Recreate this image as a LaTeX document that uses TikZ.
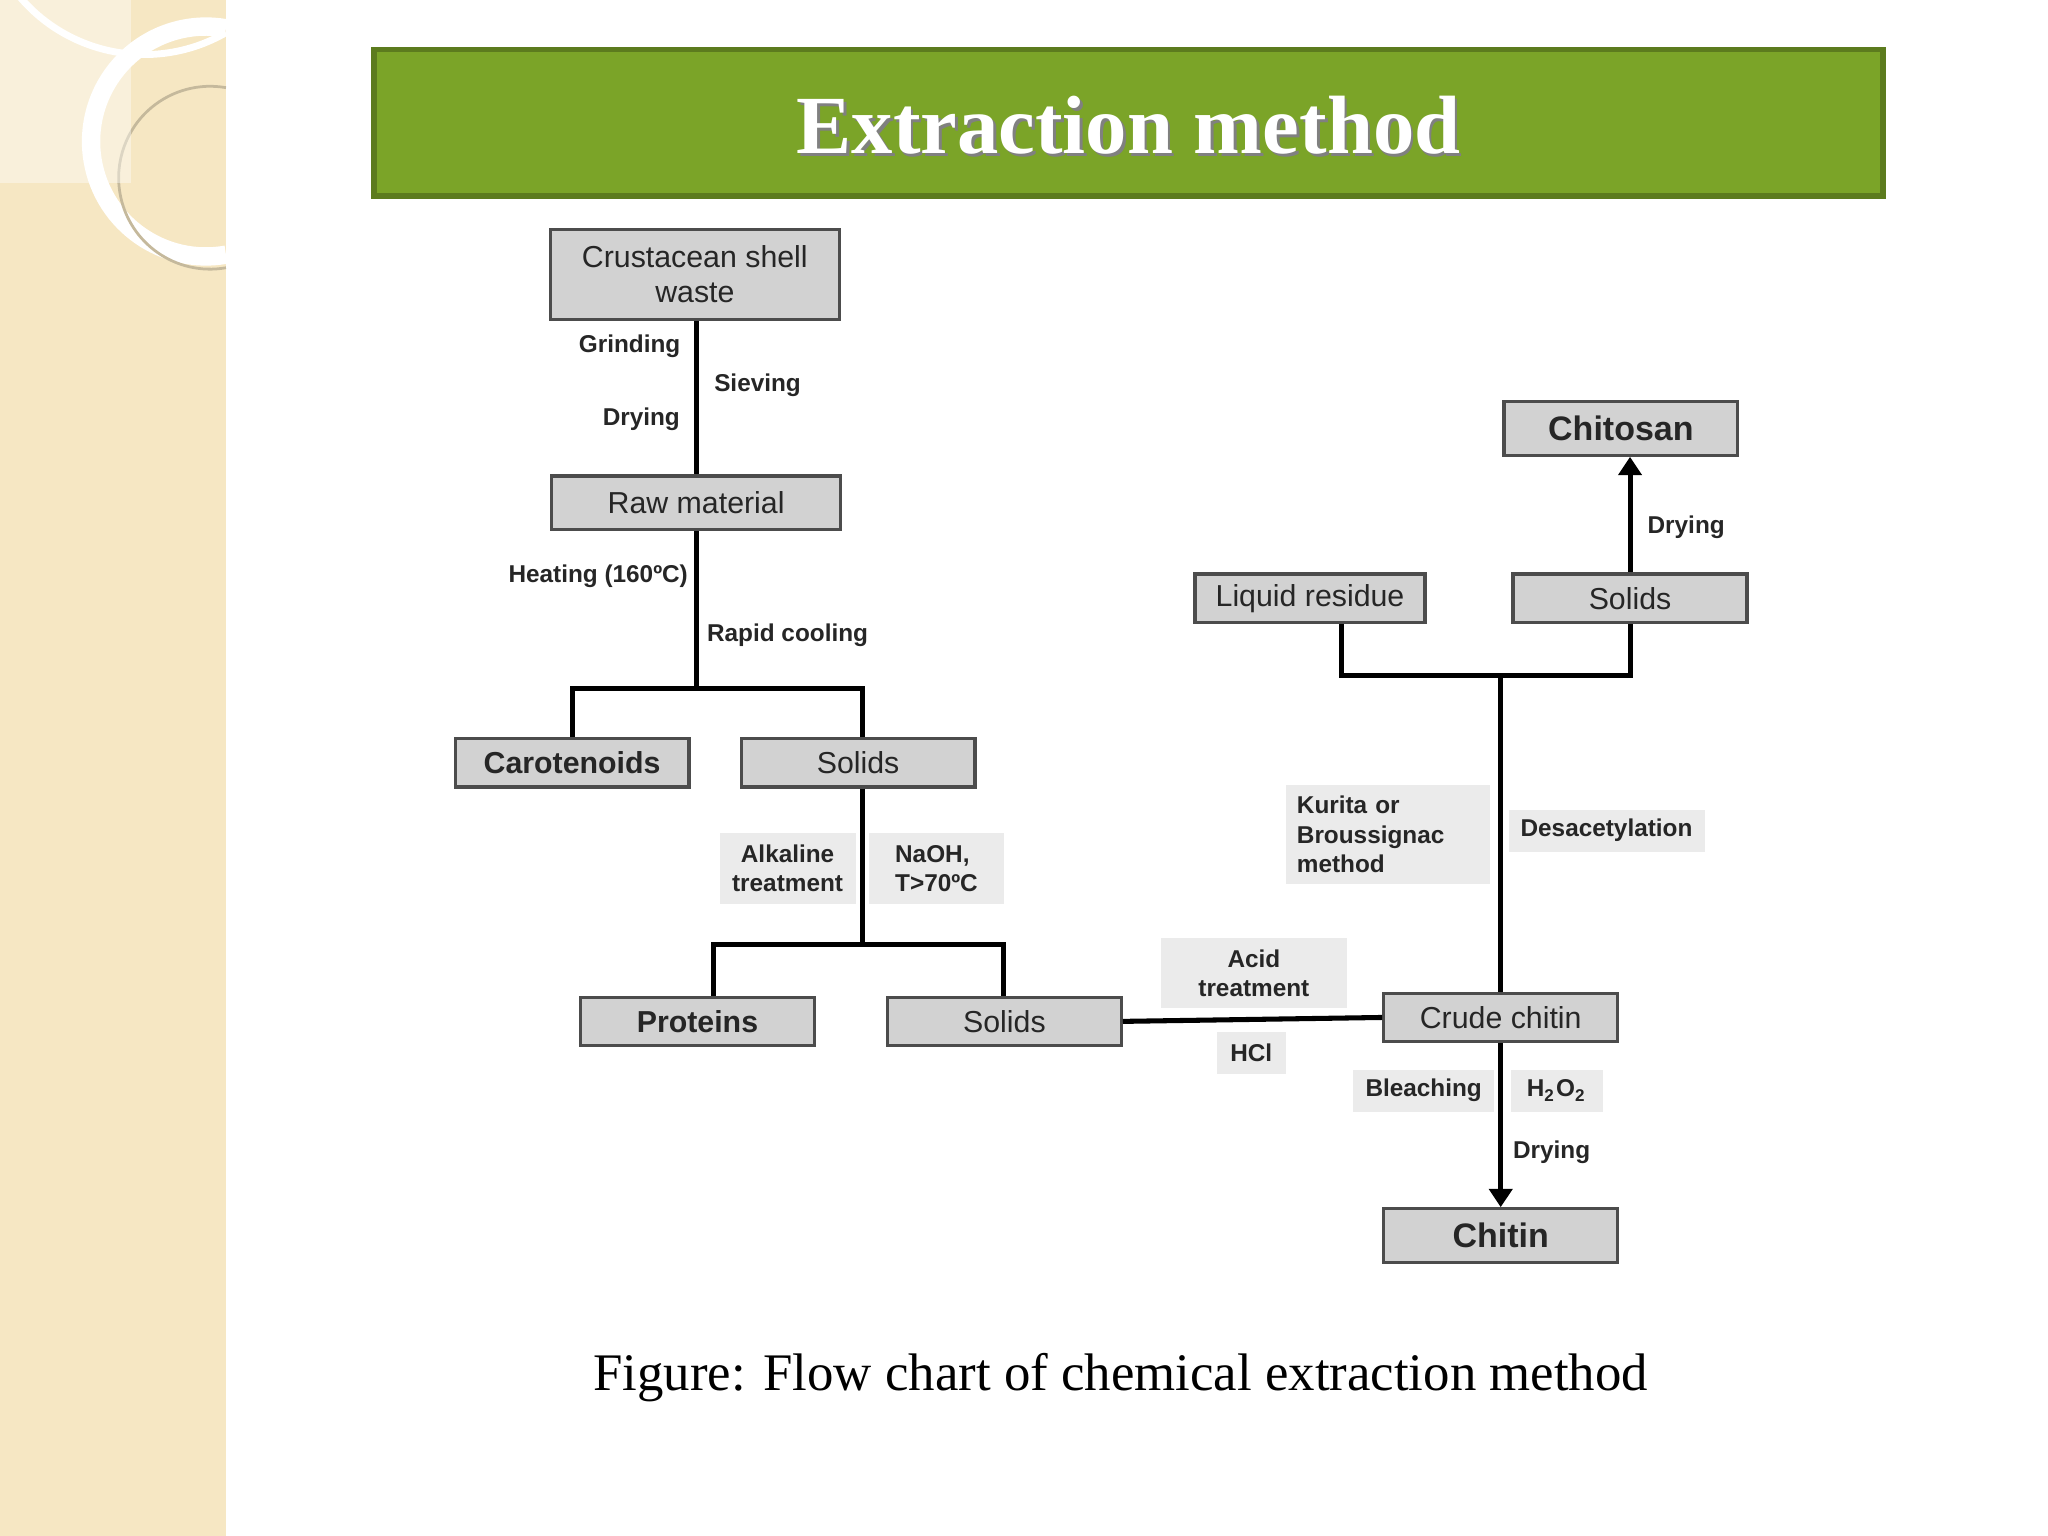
\documentclass[tikz,border=0pt]{standalone}
\usepackage{fontspec}
\setmainfont{Liberation Sans}
\newfontfamily\serif{Liberation Serif}
\usetikzlibrary{arrows.meta}
\definecolor{boxg}{HTML}{D2D2D2}
\definecolor{lblg}{HTML}{EBEBEB}
\definecolor{beige}{HTML}{F6E7C3}
\definecolor{ttl}{HTML}{7BA428}
\tikzset{
 x=0.01cm,y=-0.01cm,
 bx/.style={draw=black!70,line width=0.7pt,fill=boxg,minimum height=0.37cm,inner sep=0pt,font=\fontsize{6.6}{7.6}\selectfont,text=black!85},
 lb/.style={font=\fontsize{5.3}{6.4}\selectfont\bfseries,text=black!85,inner sep=1pt},
 lbb/.style={lb,fill=lblg,inner sep=2pt},
 ln/.style={line width=1.1pt,black},
 ar/.style={ln,-{Triangle[length=4pt,width=5pt]}}
}
\begin{document}
\begin{tikzpicture}
\useasboundingbox (0,0) rectangle (1568,1176);
\fill[white] (0,0) rectangle (1568,1176);
\fill[beige] (0,0) rectangle (173,1176);
\draw[white,line width=1.5pt] (173,25) arc[start angle=60,end angle=300,radius=125] ;
\draw[white,line width=4pt] (173,195) arc[start angle=80,end angle=280,radius=88];
\draw[beige!80!black,line width=0.6pt] (173,205) arc[start angle=80,end angle=280,radius=70];
\fill[white,opacity=0.4] (0,0) rectangle (100,140);
% title
\node[draw=ttl!75!black,line width=1.2pt,fill=ttl,minimum width=11.55cm,minimum height=1.12cm,inner sep=0pt] (title) at (864,94) {};
\node[text=black!50,font=\serif\fontsize{18}{20}\selectfont\bfseries] at (866,98) {Extraction method};
\node[text=white,font=\serif\fontsize{18}{20}\selectfont\bfseries] (tt) at (864,96) {Extraction method};
% boxes
\node[bx,minimum width=2.21cm,minimum height=0.69cm,align=center] (crus) at (532,210) {Crustacean shell\\waste};
\node[bx,minimum width=2.21cm,minimum height=0.41cm] (raw) at (533,385) {Raw material};
\node[bx,minimum width=1.79cm,font=\fontsize{6.6}{7.6}\selectfont\bfseries] (car) at (438,584) {Carotenoids};
\node[bx,minimum width=1.79cm] (sol1) at (657,584) {Solids};
\node[bx,minimum width=1.79cm,font=\fontsize{6.6}{7.6}\selectfont\bfseries] (prot) at (534,782) {Proteins};
\node[bx,minimum width=1.79cm] (sol2) at (769,782) {Solids};
\node[bx,minimum width=1.79cm] (crude) at (1149,779) {Crude chitin};
\node[bx,minimum width=1.79cm,minimum height=0.41cm,font=\fontsize{7.4}{8.4}\selectfont\bfseries] (chitin) at (1149,946) {Chitin};
\node[bx,minimum width=1.76cm] (liq) at (1003,458) {Liquid residue};
\node[bx,minimum width=1.79cm] (sol3) at (1248,458) {Solids};
\node[bx,minimum width=1.79cm,minimum height=0.41cm,font=\fontsize{7.4}{8.4}\selectfont\bfseries] (chito) at (1241,328) {Chitosan};
% connectors
\coordinate (j1) at (533,527); \coordinate (jl) at (438,527); \coordinate (jr) at (660,527);
\draw[ln] (crus.south -| raw) -- (raw.north);
\draw[ln] (raw.south) -- (j1);
\draw[ln] (car.north) |- (j1) -| (jr) -- (jr |- sol1.north);
\coordinate (j2) at (660,723);
\draw[ln] (jr |- sol1.south) -- (j2);
\draw[ln] (prot.north -| 546,0) |- (j2) -| (768,0 |- sol2.north);
\draw[ln] (sol2.east) -- (crude.west);
\coordinate (j3) at (1149,517);
\draw[ln] (crude.north) -- (j3);
\draw[ln] (1027,0 |- liq.south) |- (j3) -| (sol3.south);
\draw[ar] (sol3.north) -- (1248,0 |- chito.south);
\draw[ar] (crude.south) -- (chitin.north);
% labels
\node[lb] (l1) at (482,265) {Grinding};
\node[lb] (l2) at (580,295) {Sieving};
\node[lb] (l3) at (491,321) {Drying};
\node[lb] (l4) at (458,441) {Heating (160ºC)};
\node[lb] (l5) at (603,486) {Rapid cooling};
\node[lbb,minimum width=1.04cm,minimum height=0.54cm,align=center] (l6) at (603,665) {Alkaline\\treatment};
\node[lbb,minimum width=1.04cm,minimum height=0.54cm,align=left] (l7) at (717,665) {NaOH,\\T>70ºC};
\node[lbb,minimum width=1.42cm,minimum height=0.53cm,align=center] (l8) at (960,745) {Acid\\treatment};
\node[lbb,minimum width=0.53cm,minimum height=0.32cm] (l9) at (958,806) {HCl};
\node[lbb,minimum width=1.56cm,minimum height=0.76cm,align=left,text width=1.4cm] (l10) at (1063,639) {Kurita or\\Broussignac\\method};
\node[lbb,minimum width=1.5cm,minimum height=0.32cm] (l11) at (1230,636) {Desacetylation};
\node[lb] (l12) at (1291,404) {Drying};
\node[lbb,minimum width=1.08cm,minimum height=0.32cm] (l13) at (1090,835) {Bleaching};
\node[lbb,minimum width=0.71cm,minimum height=0.32cm] (l14) at (1192,835) {H\textsubscript{2}O\textsubscript{2}};
\node[lb] (l15) at (1188,882) {Drying};
\node[font=\serif\fontsize{11.5}{13}\selectfont] (cap) at (858,1055) {Figure: Flow chart of chemical extraction method};
\end{tikzpicture}
\end{document}
